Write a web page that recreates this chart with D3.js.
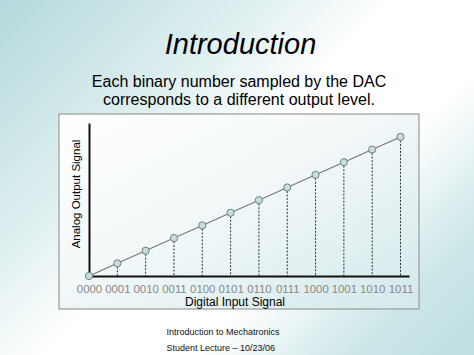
<!DOCTYPE html>
<html><head><meta charset="utf-8">
<script src="https://cdn.jsdelivr.net/npm/d3@7"></script>
<style>
html,body{margin:0;padding:0;overflow:hidden;}
svg{display:block;font-family:"Liberation Sans",Arial,sans-serif;}
</style></head>
<body>
<script>
const categories = ["0000","0001","0010","0011","0100","0101","0110","0111","1000","1001","1010","1011"];
const outputLevels = [0,1,2,3,4,5,6,7,8,9,10,11];
const titleText = "Introduction";
const subtitleLines = ["Each binary number sampled by the DAC","corresponds to a different output level."];
const footerLines = ["Introduction to Mechatronics","Student Lecture \u2013 10/23/06"];
const xLabel = "Digital Input Signal";
const yLabel = "Analog Output Signal";

const W = 474, H = 355;
const svg = d3.select("body").append("svg").attr("width", W).attr("height", H);
const defs = svg.append("defs");

const bg = defs.append("linearGradient").attr("id","bg")
  .attr("gradientUnits","userSpaceOnUse").attr("x1",0).attr("y1",0).attr("x2",W).attr("y2",H*1.33);
bg.append("stop").attr("offset","0%").attr("stop-color","#b4d9dc");
bg.append("stop").attr("offset","28%").attr("stop-color","#e1f0f1");
bg.append("stop").attr("offset","42%").attr("stop-color","#ffffff");
bg.append("stop").attr("offset","58%").attr("stop-color","#ffffff");
bg.append("stop").attr("offset","75%").attr("stop-color","#cce6e8");
bg.append("stop").attr("offset","100%").attr("stop-color","#b3d9dd");
svg.append("rect").attr("width",W).attr("height",H).attr("fill","url(#bg)");

const boxG = defs.append("linearGradient").attr("id","boxg")
  .attr("x1","0%").attr("y1","0%").attr("x2","100%").attr("y2","100%");
boxG.append("stop").attr("offset","0%").attr("stop-color","#ffffff");
boxG.append("stop").attr("offset","45%").attr("stop-color","#f3f8f9");
boxG.append("stop").attr("offset","100%").attr("stop-color","#d3e9eb");

// Title
svg.append("text").attr("x",240.5).attr("y",54).attr("text-anchor","middle")
  .attr("font-size",29).attr("font-style","italic").attr("fill","#000").text(titleText);
svg.selectAll("text.sub").data(subtitleLines).join("text").attr("class","sub")
  .attr("x",239).attr("y",(d,i)=>86.5+i*18.5).attr("text-anchor","middle")
  .attr("font-size",16).attr("fill","#000").text(d=>d);

// Chart box
svg.append("rect").attr("x",59).attr("y",114).attr("width",360).attr("height",195)
  .attr("fill","url(#boxg)").attr("stroke","#999").attr("stroke-width",1.2);

const x = d3.scaleLinear().domain([0, 11.3]).range([89, 409]);
const y = d3.scaleLinear().domain([0, 12.1]).range([276, 123]);

// dashed drop lines
svg.append("g").selectAll("line").data(outputLevels).join("line")
  .attr("x1",(d,i)=>x(i)).attr("x2",(d,i)=>x(i))
  .attr("y1",d=>y(d)).attr("y2",y(0))
  .attr("stroke","#333").attr("stroke-width",1).attr("stroke-dasharray","2,1.5");

// x axis
const xAxis = d3.axisBottom(x).tickValues(d3.range(categories.length))
  .tickFormat(i=>categories[i]).tickSize(0).tickPadding(8.5);
const gx = svg.append("g").attr("transform",`translate(0,${y(0)})`).call(xAxis);
gx.select(".domain").attr("stroke","#111").attr("stroke-width",2);
gx.selectAll("text").attr("font-size",11.4).attr("fill","#888")
  .attr("font-family","\"Liberation Sans\",Arial,sans-serif");

// y axis
const yAxis = d3.axisLeft(y).tickValues([]).tickSizeOuter(0);
const gy = svg.append("g").attr("transform",`translate(${x(0)},0)`).call(yAxis);
gy.select(".domain").attr("stroke","#111").attr("stroke-width",2);

// line
svg.append("path").datum(outputLevels)
  .attr("d", d3.line().x((d,i)=>x(i)).y(d=>y(d)))
  .attr("fill","none").attr("stroke","#777").attr("stroke-width",1.1);

// points
svg.append("g").selectAll("circle").data(outputLevels).join("circle")
  .attr("cx",(d,i)=>x(i)).attr("cy",d=>y(d)).attr("r",3.6)
  .attr("fill","#c4dedb").attr("stroke","#6f8282").attr("stroke-width",1);

// axis titles
svg.append("text").attr("x",235).attr("y",305.5).attr("text-anchor","middle")
  .attr("font-size",12).attr("fill","#000").text(xLabel);
svg.append("text").attr("transform","translate(80,194) rotate(-90)").attr("text-anchor","middle")
  .attr("font-size",11.5).attr("fill","#000").text(yLabel);

// footer
svg.selectAll("text.foot").data(footerLines).join("text").attr("class","foot")
  .attr("x",166.5).attr("y",(d,i)=>334.5+i*16.5)
  .attr("font-size",9).attr("fill","#111").text(d=>d);
</script>
</body></html>
